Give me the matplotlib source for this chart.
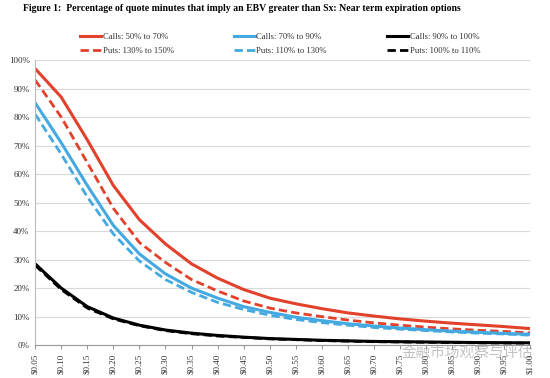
import matplotlib.pyplot as plt

plt.rcParams['font.family'] = ['Liberation Serif', 'DejaVu Serif']

# strike prices (x axis)
strikes = [0.05, 0.10, 0.15, 0.20, 0.25, 0.30, 0.35, 0.40, 0.45, 0.50,
           0.55, 0.60, 0.65, 0.70, 0.75, 0.80, 0.85, 0.90, 0.95, 1.00]
x_labels = ["\\$%.2f" % s for s in strikes]

# percentage of quote minutes
calls_50_70 = [97, 87, 72, 56, 44, 35.5, 28.5, 23.5, 19.5, 16.5,
               14.5, 12.8, 11.3, 10.2, 9.2, 8.4, 7.7, 7.1, 6.5, 5.8]
puts_130_150 = [93, 80, 64, 48, 36, 29, 23, 19, 15.5, 13,
                11.3, 10, 8.8, 7.8, 7, 6.3, 5.7, 5.2, 4.8, 4.3]
calls_70_90 = [85, 71, 56, 42, 32, 25, 20, 16.5, 13.5, 11.5,
               9.8, 8.6, 7.5, 6.7, 6, 5.4, 4.9, 4.5, 4.1, 3.8]
puts_110_130 = [81, 67, 52, 39, 29.5, 23, 18.5, 15, 12.5, 10.5,
                9, 7.9, 7, 6.2, 5.6, 5.1, 4.6, 4.2, 3.9, 3.5]
calls_90_100 = [28.5, 20, 13.5, 9.5, 7, 5.3, 4.2, 3.4, 2.8, 2.3,
                2.0, 1.7, 1.5, 1.3, 1.2, 1.1, 1.0, 0.9, 0.85, 0.8]
puts_100_110 = [28, 19.5, 13, 9.2, 6.8, 5.1, 4.0, 3.2, 2.7, 2.2,
                1.9, 1.6, 1.4, 1.2, 1.1, 1.0, 0.9, 0.8, 0.75, 0.7]

red = "#E2412B"
blue = "#45A9E1"
black = "#000000"

fig = plt.figure(figsize=(5.5, 3.78), dpi=100, facecolor="white")
ax = fig.add_axes([0.064, 0.087, 0.9, 0.754])

idx = list(range(len(strikes)))
l1, = ax.plot(idx, calls_50_70, color=red, lw=2.2, label="Calls: 50% to 70%")
l2, = ax.plot(idx, puts_130_150, color=red, lw=2.0, ls=(0, (3, 1.5)), label="Puts: 130% to 150%")
l3, = ax.plot(idx, calls_70_90, color=blue, lw=2.2, label="Calls: 70% to 90%")
l4, = ax.plot(idx, puts_110_130, color=blue, lw=2.0, ls=(0, (3, 1.5)), label="Puts: 110% to 130%")
l5, = ax.plot(idx, calls_90_100, color=black, lw=2.2, label="Calls: 90% to 100%")
l6, = ax.plot(idx, puts_100_110, color=black, lw=2.0, ls=(0, (3, 1.5)), label="Puts: 100% to 110%")

ax.set_xlim(0, len(strikes) - 1)
ax.set_ylim(0, 100)
ax.set_yticks(range(0, 101, 10))
ax.set_yticklabels(["%d%%" % v for v in range(0, 101, 10)], fontsize=6.5, color="#333333")
ax.set_xticks(idx)
ax.set_xticklabels(x_labels, rotation=90, fontsize=6.5, color="#333333")
ax.tick_params(axis='y', length=0, pad=4)
ax.tick_params(axis='x', length=3, color="#999999", pad=3)
ax.grid(axis='y', color="#D9D9D9", lw=0.8)
ax.set_axisbelow(True)
for s in ["top", "right"]:
    ax.spines[s].set_visible(False)
ax.spines["left"].set_color("#BBBBBB")
ax.spines["bottom"].set_color("#999999")

fig.text(0.042, 0.99, "Figure 1:  Percentage of quote minutes that imply an EBV greater than Sx: Near term expiration options",
         fontsize=7.0, fontweight="bold", va="top", ha="left")

fig.legend(handles=[l1, l2, l3, l4, l5, l6], ncol=3, loc="upper left",
           bbox_to_anchor=(0.135, 0.93), frameon=False, fontsize=6.2,
           handlelength=2.4, handletextpad=0.2, columnspacing=7.0, labelspacing=0.7,
           labelcolor="#333333", borderpad=0.2)

fig.text(0.97, 0.066, "金融市场观察与评估", fontsize=10.5, color="#999999", alpha=0.6,
         ha="right", va="center", family=["Noto Sans CJK SC", "DejaVu Sans"])

fig.savefig("out.png", dpi=100, facecolor="white")
